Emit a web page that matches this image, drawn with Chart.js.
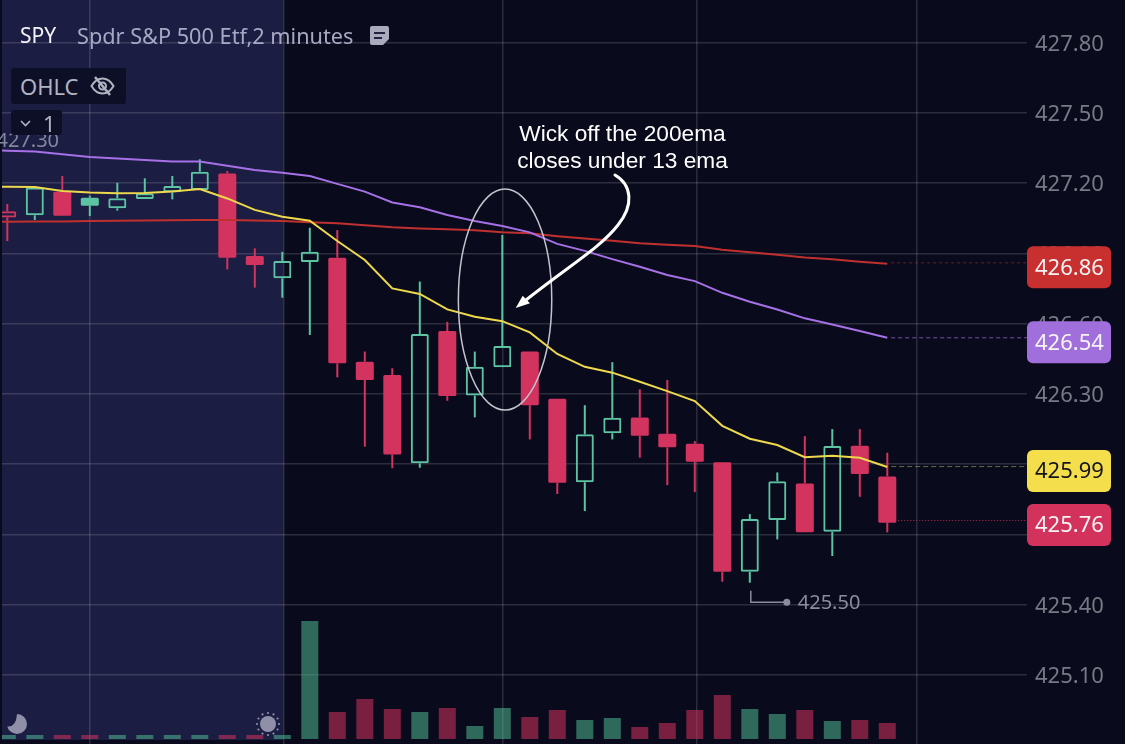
<!DOCTYPE html>
<html>
<head>
<meta charset="utf-8">
<script src="https://cdn.jsdelivr.net/npm/chart.js@4"></script>
<style>
    html, body { margin: 0; padding: 0; background: #090b1c; overflow: hidden; }
    #wrap { position: relative; width: 1125px; height: 744px; font-family: "Noto Sans", sans-serif; }
    canvas { display: block; }
    .lbl { position: absolute; white-space: nowrap; line-height: 1; }
    .box { position: absolute; background: #0d0f27; border-radius: 3px; }
    svg { position: absolute; }
</style>
</head>
<body>
<div id="wrap">
    <canvas id="chart" width="1125" height="744"></canvas>
    <div class="lbl" style="left:20px;top:25px;font-size:21px;color:#f2f2f5">SPY</div>
    <div class="lbl" style="left:77px;top:25px;font-size:21.7px;color:#a7a9c4">Spdr S&amp;P 500 Etf,2 minutes</div>
    <svg style="left:370px;top:26px" width="19" height="19" viewBox="0 0 19 19">
        <path d="M2 0h15a2 2 0 0 1 2 2v11l-6 6H2a2 2 0 0 1-2-2V2a2 2 0 0 1 2-2z" fill="#a9aabb"/>
        <path d="M4 7h11M4 12h8" stroke="#20223f" stroke-width="2"/>
    </svg>
    <div class="box" style="left:11px;top:68px;width:115px;height:36px"></div>
    <div class="lbl" style="left:20px;top:75px;font-size:22px;color:#b1b3c1">OHLC</div>
    <svg style="left:90px;top:75px" width="25" height="22" viewBox="0 0 25 22">
        <path d="M1.5 11C5 5 9 3.5 12.5 3.5S20 5 23.5 11C20 17 16 18.5 12.5 18.5S5 17 1.5 11z" fill="none" stroke="#b1b3c1" stroke-width="2"/>
        <circle cx="12.5" cy="11" r="3.5" fill="none" stroke="#b1b3c1" stroke-width="2"/>
        <path d="M5 2l15 18" stroke="#b1b3c1" stroke-width="2.5"/>
    </svg>
    <div class="box" style="left:11px;top:110px;width:51px;height:25px"></div>
    <svg style="left:19px;top:119px" width="13" height="9" viewBox="0 0 13 9">
        <path d="M2 2l4.5 4.5L11 2" fill="none" stroke="#b1b3c1" stroke-width="1.6"/>
    </svg>
    <div class="lbl" style="left:43px;top:112px;font-size:22px;color:#b1b3c1">1</div>
</div>
<script>
// data

const priceTicks = [425.10, 425.40, 425.70, 426.00, 426.30, 426.60, 426.90, 427.20, 427.50, 427.80];
const timeTicks = [2.98, 10.04, 18.02, 25.07, 33.07];

const opens = [427.080,427.063,427.164,427.104,427.093,427.133,427.161,427.171,427.241,426.889,426.794,426.864,426.882,426.438,426.381,426.004,426.569,426.293,426.414,426.481,426.280,425.923,426.132,426.200,426.130,426.087,426.009,425.541,425.762,425.918,425.712,426.079,425.948];
const closes = [427.054,427.182,427.061,427.138,427.136,427.157,427.188,427.249,426.882,426.851,426.868,426.907,426.431,426.360,426.042,426.556,426.291,426.416,426.505,426.252,425.921,426.128,426.198,426.122,426.072,426.011,425.541,425.766,425.927,425.710,426.078,425.958,425.750];
const highs = [427.111,427.182,427.231,427.147,427.202,427.221,427.231,427.302,427.252,426.922,426.907,427.010,427.000,426.481,426.410,426.780,426.608,426.481,426.979,426.481,426.280,426.252,426.436,426.320,426.360,426.099,426.009,425.787,425.965,426.120,426.150,426.150,426.049];
const lows = [426.953,427.043,427.061,427.060,427.083,427.133,427.131,427.171,426.832,426.754,426.711,426.552,426.371,426.075,425.983,425.985,426.271,426.200,426.414,426.106,425.873,425.800,426.106,426.028,425.911,425.881,425.498,425.494,425.679,425.710,425.608,425.861,425.709];

// odd candles: a hollow red one and a solid green one
const hollowDown = [0];
const solidUp = [3];

const volumes = [4,4,4,4,4,4,4,4,4,4,4,118,27,40,30,27,31,13,31,22,29,19,21,12,16,29,44,30,25,29,18,19,16];
const volumeSide = ['u','u','d','d','u','u','u','u','d','d','u','u','d','d','d','u','d','u','u','d','d','u','u','d','d','d','d','u','u','d','u','d','d'];

// the averages start one bar earlier, off the left edge of the plot
const ema200 = [427.035,427.035,427.036,427.037,427.039,427.040,427.041,427.042,427.043,427.043,427.041,427.039,427.033,427.029,427.021,427.012,427.007,427.003,426.999,426.991,426.986,426.974,426.964,426.954,426.944,426.937,426.932,426.916,426.905,426.894,426.883,426.875,426.865,426.856];
const ema50 = [427.345,427.339,427.335,427.324,427.312,427.305,427.299,427.293,427.293,427.275,427.256,427.245,427.231,427.197,427.164,427.118,427.097,427.064,427.039,427.017,426.990,426.941,426.911,426.876,426.843,426.808,426.782,426.732,426.694,426.661,426.623,426.597,426.569,426.540];
const ema13 = [427.186,427.185,427.184,427.167,427.160,427.157,427.158,427.165,427.175,427.135,427.086,427.057,427.040,426.953,426.872,426.751,426.727,426.661,426.630,426.611,426.563,426.471,426.416,426.391,426.352,426.312,426.270,426.164,426.109,426.082,426.030,426.036,426.028,425.988];

const lastRed = 426.86;
const lastPurple = 426.54;
const lastYellow = 425.99;
const lastClose = 425.76;
const sessionLow = 425.50;

// colours

const UP = '#5cc3a3';
const DOWN = '#d3345f';
const BG = '#090b1c';
const BAND = '#1b1d42';
const MUTED = '#8a8c9f';

// helpers

const side = i => closes[i] >= opens[i] ? UP : DOWN;
const indexes = opens.map((_, i) => i);
const isHollow = i => hollowDown.includes(i) || (closes[i] >= opens[i] && !solidUp.includes(i));

function priceLine(from, price, color, dash){
    return {
        type: 'line',
        data: [{x: from, y: price}, {x: 37.08, y: price}],
        borderColor: color,
        borderWidth: 1,
        borderDash: dash,
        pointRadius: 0,
        order: 1
    };
}

function emaLine(values, color){
    return {
        type: 'line',
        data: values.map((y, i) => ({x: i - 1, y})),
        borderColor: color,
        borderWidth: 2,
        pointRadius: 0,
        tension: 0,
        order: 0
    };
}

// overlays that Chart.js has no element for

function badge(ctx, chart, price, text, fill, ink){
    let y = chart.scales.y.getPixelForValue(price) + 4.5;
    ctx.fillStyle = fill;
    ctx.beginPath();
    ctx.roundRect(1027, y - 21, 84, 42, 6);
    ctx.fill();
    ctx.fillStyle = ink;
    ctx.font = '22px "Noto Sans"';
    ctx.textAlign = 'left';
    ctx.textBaseline = 'middle';
    ctx.fillText(text, 1035, y + 1);
}

function drawMoon(ctx){
    ctx.fillStyle = '#8f90a8';
    ctx.beginPath();
    ctx.moveTo(17, 714.5);
    ctx.arc(17, 724, 10, -1.57, 2.9);
    ctx.quadraticCurveTo(15.85, 727.55, 17, 714.5);
    ctx.fill();
}

function drawSun(ctx, x, y){
    ctx.fillStyle = '#8f90a8';
    ctx.beginPath();
    ctx.arc(x, y, 8, 0, Math.PI * 2);
    ctx.fill();
    for(let a = 0; a < 12; a++){
        ctx.beginPath();
        ctx.arc(x + Math.cos(a * Math.PI / 6) * 11, y + Math.sin(a * Math.PI / 6) * 11, 1.1, 0, Math.PI * 2);
        ctx.fill();
    }
}

function drawLowMarker(ctx, chart){
    let xs = chart.scales.x, ys = chart.scales.y;
    let x = xs.getPixelForValue(27) + 1;
    let y = ys.getPixelForValue(sessionLow) + 21;
    ctx.strokeStyle = MUTED;
    ctx.lineWidth = 1.5;
    ctx.beginPath();
    ctx.moveTo(x, y - 11.5);
    ctx.lineTo(x, y);
    ctx.lineTo(x + 36, y);
    ctx.stroke();
    ctx.fillStyle = MUTED;
    ctx.beginPath();
    ctx.arc(x + 36, y, 3.5, 0, Math.PI * 2);
    ctx.fill();
    ctx.font = '20px "Noto Sans"';
    ctx.textAlign = 'left';
    ctx.textBaseline = 'middle';
    ctx.fillText(sessionLow.toFixed(2), x + 47, y + 1);
}

function drawNote(ctx, chart){
    // ellipse around the 200ema wick
    let cx = chart.scales.x.getPixelForValue(18.1);
    let cy = chart.scales.y.getPixelForValue(426.703);
    ctx.strokeStyle = '#c4c4cc';
    ctx.lineWidth = 1.5;
    ctx.beginPath();
    ctx.ellipse(cx, cy, 46.7, 110.5, 0, 0, Math.PI * 2);
    ctx.stroke();

    // arrow
    ctx.strokeStyle = '#ffffff';
    ctx.lineWidth = 3;
    ctx.lineCap = 'round';
    ctx.beginPath();
    ctx.moveTo(615, 175);
    ctx.bezierCurveTo(632, 185, 634, 205, 618, 225);
    ctx.bezierCurveTo(600, 248, 570, 265, 526, 300);
    ctx.stroke();
    ctx.fillStyle = '#ffffff';
    ctx.beginPath();
    ctx.moveTo(515.7, 308);
    ctx.lineTo(522.7, 295.7);
    ctx.lineTo(530, 303.3);
    ctx.closePath();
    ctx.fill();

    ctx.font = '22.7px "Liberation Sans"';
    ctx.textAlign = 'center';
    ctx.textBaseline = 'middle';
    ctx.fillText('Wick off the 200ema', 622.5, 135);
    ctx.fillText('closes under 13 ema', 622.5, 161.5);
}

const overlays = {
    id: 'overlays',
    beforeDraw(chart){
        let ctx = chart.ctx, area = chart.chartArea;
        let bandEnd = chart.scales.x.getPixelForValue(timeTicks[1]);
        ctx.save();
        ctx.fillStyle = BG;
        ctx.fillRect(0, 0, chart.width, chart.height);
        ctx.fillStyle = BAND;
        ctx.fillRect(area.left, 0, bandEnd - area.left, 740);
        ctx.restore();

        // price labels sit 2px under their gridlines
        chart.scales.y.getLabelItems().forEach(item => { item.options.translation[1] += 2; });
    },
    afterDraw(chart){
        let ctx = chart.ctx;
        ctx.save();
        // session high label, the legend boxes sit on top of it
        ctx.fillStyle = '#84869f';
        ctx.font = '20px "Noto Sans"';
        ctx.textAlign = 'left';
        ctx.textBaseline = 'middle';
        ctx.fillText('427.30', -3.5, 141.5);

        drawMoon(ctx);
        drawSun(ctx, 268, 724);
        drawLowMarker(ctx, chart);
        drawNote(ctx, chart);

        badge(ctx, chart, lastRed, '426.86', '#c8302f', '#f4f4f4');
        badge(ctx, chart, lastPurple, '426.54', '#a06fdc', '#f4f4f4');
        badge(ctx, chart, lastYellow, '425.99', '#f5de4b', '#14141c');
        badge(ctx, chart, lastClose, '425.76', '#d2325c', '#f4f4f4');
        ctx.restore();
    }
};

// keep the scale from reserving room for half a tick label, the plot runs edge to edge
function noPadding(s){
    s.paddingTop = 0;
    s.paddingBottom = 0;
    s.paddingLeft = 0;
    s.paddingRight = 0;
}

// chart

new Chart('chart', {
    data: {
        datasets: [
            emaLine(ema13, '#eed94c'),
            emaLine(ema50, '#a670e6'),
            emaLine(ema200, '#c0302f'),
            priceLine(32.14, lastRed, 'rgba(200,48,47,0.5)', [3, 3]),
            priceLine(32.14, lastPurple, 'rgba(160,111,220,0.7)', [4, 3]),
            priceLine(32.14, lastYellow, 'rgba(225,215,120,0.45)', [5, 3]),
            priceLine(32.4, lastClose, 'rgba(210,50,92,0.9)', [1, 2]),
            {
                // candle bodies
                type: 'bar',
                data: indexes.map(x => ({x, y: [opens[x], closes[x]]})),
                backgroundColor: indexes.map(i => isHollow(i) ? 'rgba(0,0,0,0)' : side(i)),
                borderColor: indexes.map(side),
                borderWidth: indexes.map(i => isHollow(i) ? 2 : 0),
                borderRadius: 1.5,
                borderSkipped: false,
                inflateAmount: 0,
                barThickness: 18,
                grouped: false,
                order: 2
            },
            {
                // upper wicks
                type: 'bar',
                data: indexes.map(x => ({x, y: [Math.max(opens[x], closes[x]), highs[x]]})),
                backgroundColor: indexes.map(side),
                inflateAmount: 0,
                barThickness: 2,
                grouped: false,
                order: 3
            },
            {
                // lower wicks
                type: 'bar',
                data: indexes.map(x => ({x, y: [lows[x], Math.min(opens[x], closes[x])]})),
                backgroundColor: indexes.map(side),
                inflateAmount: 0,
                barThickness: 2,
                grouped: false,
                order: 3
            },
            {
                type: 'bar',
                yAxisID: 'y2',
                data: indexes.map(x => ({x, y: volumes[x]})),
                backgroundColor: volumeSide.map(s => s === 'u' ? 'rgba(78,184,144,0.55)' : 'rgba(214,49,93,0.55)'),
                inflateAmount: 0,
                barThickness: 17,
                grouped: false,
                order: 4
            }
        ]
    },
    options: {
        responsive: false,
        animation: false,
        events: [],
        layout: { padding: { left: 2, right: 0, top: 0, bottom: 0 } },
        plugins: {
            legend: { display: false },
            tooltip: { enabled: false }
        },
        scales: {
            x: {
                type: 'linear',
                offset: false,
                min: -0.193,
                max: 37.08,
                afterBuildTicks: s => { s.ticks = timeTicks.map(value => ({value})); },
                afterFit: s => { s.height = 0; noPadding(s); },
                border: { display: false },
                grid: { offset: false, color: 'rgba(255,255,255,0.14)', lineWidth: 1.5, drawTicks: false },
                ticks: { display: false }
            },
            y: {
                type: 'linear',
                position: 'right',
                min: 424.8054,
                max: 427.9823,
                afterBuildTicks: s => { s.ticks = priceTicks.map(value => ({value})); },
                afterFit: s => { s.width = 98; noPadding(s); },
                border: { display: false },
                grid: { color: 'rgba(255,255,255,0.14)', lineWidth: 1.5, drawTicks: false },
                ticks: {
                    autoSkip: false,
                    padding: 8,
                    color: '#777985',
                    font: { family: '"Noto Sans"', size: 22 },
                    callback: v => v.toFixed(2)
                }
            },
            y2: {
                type: 'linear',
                display: false,
                min: -5,
                max: 739
            }
        }
    },
    plugins: [overlays]
});
</script>
</body>
</html>
